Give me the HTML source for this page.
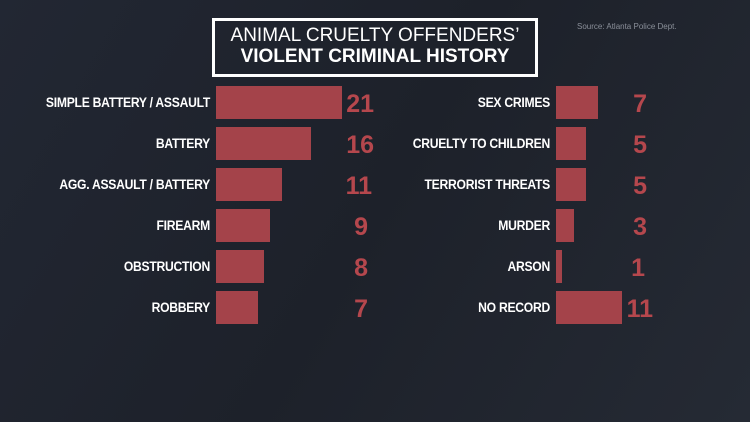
<!DOCTYPE html>
<html><head><style>
body{margin:0;width:750px;height:422px;overflow:hidden;background:linear-gradient(120deg,#222733 0%,#1d212a 50%,#252a34 100%);font-family:"Liberation Sans",sans-serif;position:relative}
.t{position:absolute;left:212px;top:18px;width:320px;height:49px;border:3px solid #fff;color:#fff;text-align:center;font-size:19px;line-height:21px;padding-top:4px}
.src{position:absolute;left:577px;top:22px;font-size:8px;color:#8a8f99}
.l{position:absolute;color:#fff;font-weight:bold;font-size:13.5px;text-align:right;width:300px;letter-spacing:-0.3px;transform:scaleX(0.9);transform-origin:right center}
.b{position:absolute;height:33px;background:#a4434a}
.n{position:absolute;color:#b5474d;font-weight:bold;font-size:25px;text-align:right;width:60px}
</style></head><body>
<div class="t">ANIMAL CRUELTY OFFENDERS’<br><b>VIOLENT CRIMINAL HISTORY</b></div>
<div class="src">Source: Atlanta Police Dept.</div>

<div class="l" style="left:-90px;top:95px">SIMPLE BATTERY / ASSAULT</div>
<div class="b" style="left:216px;top:86px;width:126px"></div><div class="n" style="left:314px;top:90px">21</div>
<div class="l" style="left:-90px;top:136px">BATTERY</div>
<div class="b" style="left:216px;top:127px;width:95px"></div><div class="n" style="left:314px;top:131px">16</div>
<div class="l" style="left:-90px;top:177px">AGG. ASSAULT / BATTERY</div>
<div class="b" style="left:216px;top:168px;width:66px"></div><div class="n" style="left:312px;top:172px">11</div>
<div class="l" style="left:-90px;top:218px">FIREARM</div>
<div class="b" style="left:216px;top:209px;width:54px"></div><div class="n" style="left:308px;top:213px">9</div>
<div class="l" style="left:-90px;top:259px">OBSTRUCTION</div>
<div class="b" style="left:216px;top:250px;width:48px"></div><div class="n" style="left:308px;top:254px">8</div>
<div class="l" style="left:-90px;top:300px">ROBBERY</div>
<div class="b" style="left:216px;top:291px;width:42px"></div><div class="n" style="left:308px;top:295px">7</div>

<div class="l" style="left:250px;top:95px">SEX CRIMES</div>
<div class="b" style="left:556px;top:86px;width:42px"></div><div class="n" style="left:587px;top:90px">7</div>
<div class="l" style="left:250px;top:136px">CRUELTY TO CHILDREN</div>
<div class="b" style="left:556px;top:127px;width:30px"></div><div class="n" style="left:587px;top:131px">5</div>
<div class="l" style="left:250px;top:177px">TERRORIST THREATS</div>
<div class="b" style="left:556px;top:168px;width:30px"></div><div class="n" style="left:587px;top:172px">5</div>
<div class="l" style="left:250px;top:218px">MURDER</div>
<div class="b" style="left:556px;top:209px;width:18px"></div><div class="n" style="left:587px;top:213px">3</div>
<div class="l" style="left:250px;top:259px">ARSON</div>
<div class="b" style="left:556px;top:250px;width:6px"></div><div class="n" style="left:585px;top:254px">1</div>
<div class="l" style="left:250px;top:300px">NO RECORD</div>
<div class="b" style="left:556px;top:291px;width:66px"></div><div class="n" style="left:593px;top:295px">11</div>
</body></html>
